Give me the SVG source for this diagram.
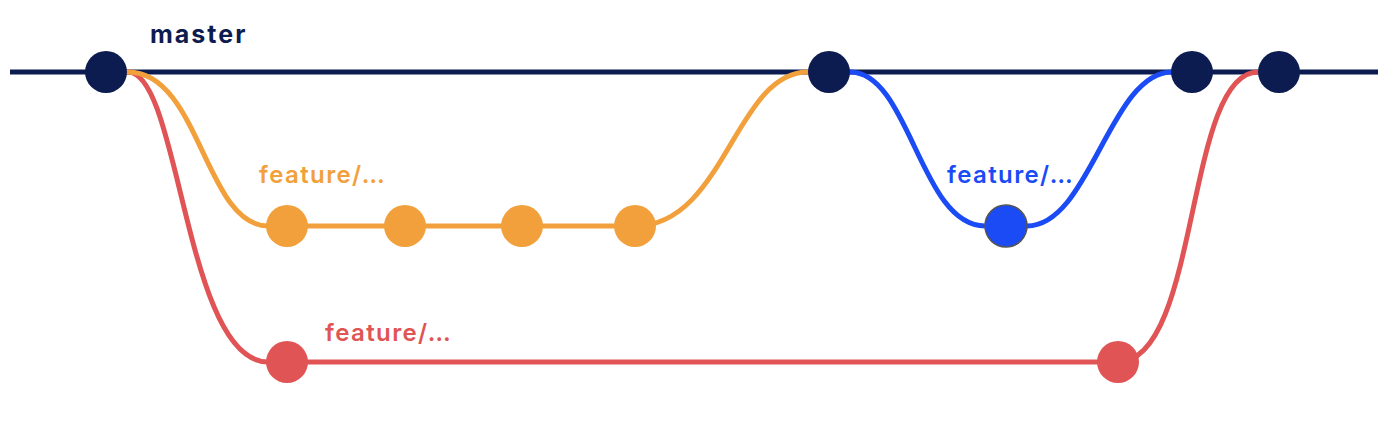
<svg xmlns="http://www.w3.org/2000/svg" width="1400" height="423" viewBox="0 0 1400 423">
<style>
.lbl{font-family:Inter,"Noto Sans","Liberation Sans",sans-serif;font-size:24px;letter-spacing:1.4px;font-weight:600}
.br{fill:none;stroke-width:5;stroke-linecap:round}
</style>
<rect width="1400" height="423" fill="#ffffff"/>
<g id="connectors">
<line x1="10" y1="72" x2="1378" y2="72" stroke="#0d1c50" stroke-width="5"/>
<path class="br" stroke="#e05455" d="M128 72 C180 72 185 362 268 362 L1118 362 C1200 362 1185 72 1258 72"/>
<path class="br" stroke="#f2a03c" d="M128 72 C200 72 205 226 268 226 L635 226 C725 226 735 72 808 72"/>
<path class="br" stroke="#1a4bf5" d="M850 72 C910 72 920 226 985 226 L1027 226 C1090 226 1110 72 1172 72"/>
</g>
<g id="master-nodes" fill="#0d1c50">
<circle id="m1" cx="106" cy="72" r="21"/>
<circle id="m2" cx="829" cy="72" r="21"/>
<circle id="m3" cx="1192" cy="72" r="21"/>
<circle id="m4" cx="1279" cy="72" r="21"/>
</g>
<g id="orange-nodes" fill="#f2a03c">
<circle id="o1" cx="287" cy="226" r="21"/>
<circle id="o2" cx="405" cy="226" r="21"/>
<circle id="o3" cx="522" cy="226" r="21"/>
<circle id="o4" cx="635" cy="226" r="21"/>
</g>
<g id="blue-node">
<circle cx="1006" cy="226" r="21" fill="#1a4bf5" stroke="#555" stroke-width="1.5"/>
</g>
<g id="red-nodes" fill="#e05455">
<circle id="r1" cx="287" cy="362" r="21"/>
<circle id="r2" cx="1118" cy="362" r="21"/>
</g>
<g id="labels">
<text class="lbl" x="150" y="43" fill="#0d1c50" style="font-weight:700;font-size:25px;letter-spacing:2px">master</text>
<text class="lbl" x="259" y="183" fill="#f2a03c">feature/…</text>
<text class="lbl" x="947" y="183" fill="#1a4bf5">feature/…</text>
<text class="lbl" x="325" y="341" fill="#e05455">feature/…</text>
</g>
</svg>
